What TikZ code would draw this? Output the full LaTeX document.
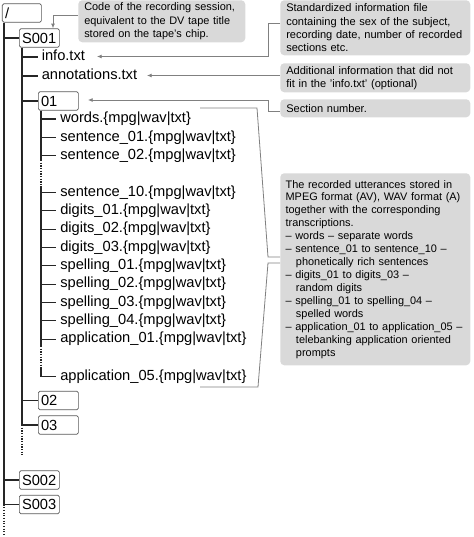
\documentclass[tikz,border=0pt]{standalone}
\usepackage{fontspec}
\setmainfont{Liberation Sans}
\usetikzlibrary{arrows.meta}
\newcommand{\fext}{.\{mpg|wav|txt\}}
\begin{document}
\begin{tikzpicture}[x=0.75pt,y=-0.75pt,
  dirbox/.style={draw=black!65, line width=0.55pt, rounded corners=1.2pt, inner xsep=2pt, inner ysep=0pt,
    minimum height=14pt, anchor=west, align=left, text width=26pt,
    font=\fontsize{11}{13}\selectfont, text height=8pt, text depth=0.5pt},
  file/.style={inner sep=0pt, anchor=west, font=\fontsize{11}{13}\selectfont, text height=8pt, text depth=2.5pt},
  tree/.style={draw=black!85, line width=0.9pt},
  treedot/.style={draw=black!85, line width=0.9pt, dash pattern=on 0.9pt off 1.1pt},
  note/.style={fill=black!15, rounded corners=3pt, inner xsep=4.5pt, inner ysep=1pt, anchor=north west, align=left},
  conn/.style={draw=black!50, line width=0.6pt},
  tipend/.style={-{Latex[length=3.5pt,width=3pt]}}
]
\useasboundingbox (0,0) rectangle (474,537);

% callout notes
\node[note, text width=116.25pt, minimum height=31.5pt, font=\fontsize{8.2}{10}\selectfont] (A) at (78,0)
  {Code of the recording session,\\equivalent to the DV tape title\\stored on the tape's chip.};
\node[note, text width=133.5pt, minimum height=41.25pt, font=\fontsize{8.3}{10}\selectfont] (B) at (280,0)
  {Standardized information file\\containing the sex of the subject,\\recording date, number of recorded\\sections etc.};
\node[note, text width=133.5pt, minimum height=21.75pt, font=\fontsize{8.3}{9.75}\selectfont] (C) at (280,63)
  {Additional information that did not\\fit in the 'info.txt' (optional)};
\node[note, text width=133.5pt, minimum height=13.5pt, font=\fontsize{8.3}{9.75}\selectfont] (D) at (280,99)
  {Section number.};
\node[note, inner xsep=4pt, text width=134.5pt, minimum height=144pt, font=\fontsize{8.2}{9.7}\selectfont] (E) at (280,173)
  {The recorded utterances stored in\\MPEG format (AV), WAV format (A)\\together with the corresponding\\transcriptions.\\
   -- words -- separate words\\
   -- sentence\_01 to sentence\_10 --\\\hspace*{0.95em}phonetically rich sentences\\
   -- digits\_01 to digits\_03 --\\\hspace*{0.95em}random digits\\
   -- spelling\_01 to spelling\_04 --\\\hspace*{0.95em}spelled words\\
   \mbox{-- application\_01 to application\_05 --}\\\hspace*{0.95em}telebanking application oriented\\\hspace*{0.95em}prompts};

% directory boxes
\node[dirbox, text width=25.25pt] (root) at (2,13) {/};
\node[dirbox] (S001) at (19,38) {S001};
\node[dirbox] (S002) at (19,480) {S002};
\node[dirbox] (S003) at (19,504.5) {S003};
\node[dirbox] (d01) at (38,101) {01};
\node[dirbox] (d02) at (38,400.5) {02};
\node[dirbox] (d03) at (38,425) {03};

% files
\node[file] (info) at (41.5,57) {info.txt};
\node[file] (ann) at (41.5,76) {annotations.txt};
\foreach \nm/\txt/\k in {fw/words/0, fs1/sentence\_01/1, fs2/sentence\_02/2, fs10/sentence\_10/4,
  fd1/digits\_01/5, fd2/digits\_02/6, fd3/digits\_03/7, fp1/spelling\_01/8, fp2/spelling\_02/9,
  fp3/spelling\_03/10, fp4/spelling\_04/11, fa1/application\_01/12}
  \node[file] (\nm) at (60,119+18.35*\k) {\txt\fext};
\node[file] (fa5) at (60,376.5) {application\_05\fext};

% tree lines
\coordinate (rx) at (4,0);
\coordinate (sx) at (22,0);
\coordinate (fx) at (41,0);
\coordinate (rend) at (4,535);
\coordinate (send) at (22,455);
\coordinate (f1) at (41,160);
\coordinate (f2) at (41,186);
\coordinate (f3) at (41,346);
\coordinate (f4) at (41,368);

\draw[tree] (root.south -| rx) -- (rx |- S003.west);
\draw[treedot] (rx |- S003.west) -- (rend);
\foreach \n in {S001,S002,S003} \draw[tree] (rx |- \n.west) -- (\n.west);

\draw[tree] (S001.south -| sx) -- (sx |- d03.west);
\draw[treedot] (sx |- d03.west) -- (send);
\foreach \n in {info,ann} \draw[tree] (sx |- \n.west) -- ([xshift=-2.6pt]\n.west);
\foreach \n in {d01,d02,d03} \draw[tree] (sx |- \n.west) -- (\n.west);

\draw[tree] (d01.south -| fx) -- (f1);
\draw[treedot] (f1) -- (f2);
\draw[tree] (f2) -- (f3);
\draw[treedot] (f3) -- (f4);
\draw[tree] (f4) |- ([xshift=-3pt]fa5.west);
\foreach \n in {fw,fs1,fs2,fs10,fd1,fd2,fd3,fp1,fp2,fp3,fp4,fa1}
  \draw[tree] (fx |- \n.west) -- ([xshift=-3pt]\n.west);

% connectors
\coordinate (ya) at (0,15);
\coordinate (xa) at (53,0);
\coordinate (yb) at (0,23);
\coordinate (xb) at (268,0);
\coordinate (yd) at (0,111);
\coordinate (tipinfo) at (97,56.5);
\coordinate (tipann) at (147,75.5);
\coordinate (tip01) at (88,100);
\draw[conn, tipend] (A.west |- ya) -| (S001.north -| xa);
\draw[conn, tipend] (B.west |- yb) -| (xb |- tipinfo) -- (tipinfo);
\draw[conn, tipend] (C.west |- tipann) -- (tipann);
\draw[conn, tipend] (D.west |- yd) -| (xb |- tip01) -- (tip01);

\coordinate (e1) at (200,108);
\coordinate (e2) at (257,108);
\coordinate (e3) at (268,257);
\coordinate (e4) at (268,263);
\coordinate (e5) at (258,387);
\coordinate (e6) at (200,387);
\draw[conn] (e1) -- (e2) -- (e3) -- (E.west |- e3);
\draw[conn] (E.west |- e4) -- (e4) -- (e5) -- (e6);
\end{tikzpicture}
\end{document}
